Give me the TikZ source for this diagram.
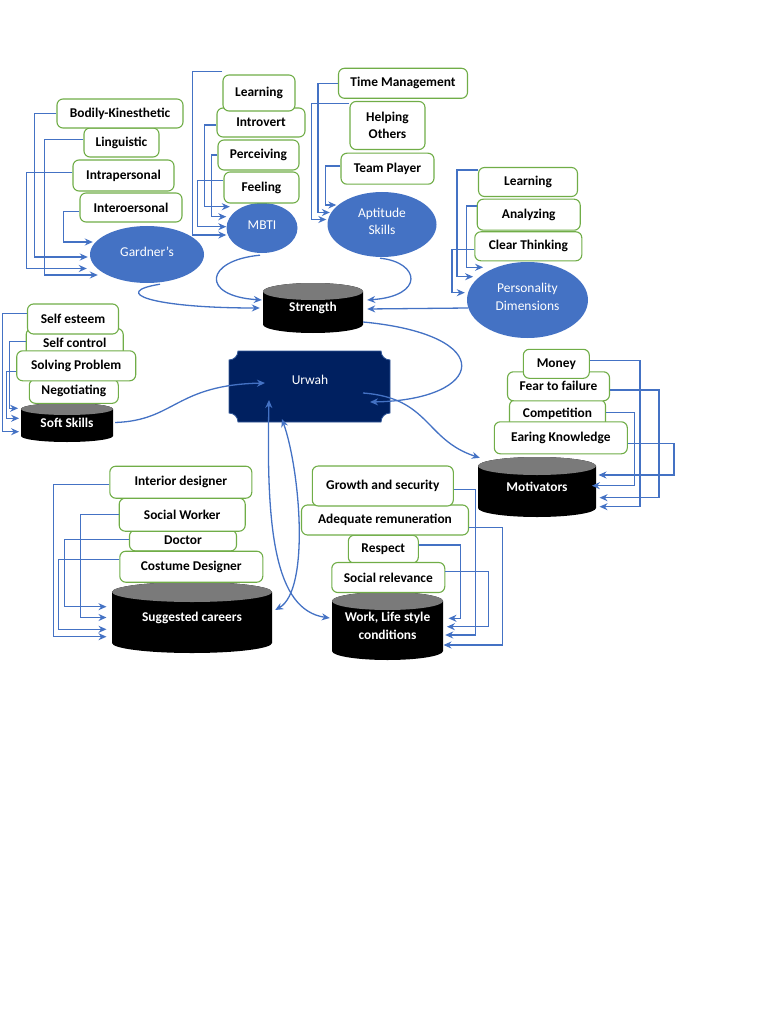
\documentclass[tikz,border=0pt]{standalone}
\usepackage{fontspec}
\setmainfont{Carlito}
\usetikzlibrary{calc}
\usetikzlibrary{arrows.meta}
\usetikzlibrary{shapes.geometric}

\definecolor{linkblue}{HTML}{4472C4}
\definecolor{boxgreen}{HTML}{70AD47}
\definecolor{bubbleblue}{HTML}{4472C4}
\definecolor{plaquenavy}{HTML}{002060}
\definecolor{plaqueedge}{HTML}{2F5597}

\tikzset{
  wh/.style 2 args={minimum width=#1pt, minimum height=#2pt},
  link/.style={linkblue, line width=1.3pt, ->, >={Stealth[length=8pt, width=7pt]}},
  dlink/.style={linkblue, line width=1.3pt, <->, >={Stealth[length=8pt, width=7pt]}},
  item/.style={draw=boxgreen, line width=1.1pt, rounded corners=6pt, fill=white, inner sep=1pt,
    align=center, font=\fontsize{13.4}{17}\selectfont\bfseries},
  bubble/.style={ellipse, fill=bubbleblue, text=white, inner sep=0pt, align=center,
    text depth=6pt, font=\fontsize{13.5}{17.5}\selectfont},
  drumtop/.style={fill=black!52},
  drumlabel/.style={text=white, inner sep=0pt, align=center, font=\fontsize{13.4}{18}\selectfont\bfseries}
}

% #1 name, #2 cx, #3 cy, #4 width, #5 height, #6 top radius, #7 text
\newcommand{\drum}[7]{%
  \fill[black] (#2-#4/2,#3-#5/2+#6) -- (#2-#4/2,#3+#5/2-#6)
    arc[start angle=180, end angle=0, x radius=#4/2, y radius=#6]
    -- (#2+#4/2,#3-#5/2+#6)
    arc[start angle=0, end angle=-180, x radius=#4/2, y radius=#6] -- cycle;
  \fill[drumtop] (#2,#3-#5/2+#6) ellipse[x radius=#4/2, y radius=#6];
  \node[drumlabel, wh={#4}{#5}] (#1) at (#2,#3) {#7};
}

\begin{document}
\begin{tikzpicture}[x=1pt, y=-1pt]
\useasboundingbox (0,0) rectangle (768,1024);

% bubbles
\node[bubble, wh={114}{57}] (gardner) at (147,254.5) {Gardner’s};
\node[bubble, wh={71}{50}] (mbti) at (262,228) {MBTI};
\node[bubble, wh={109}{65}] (aptitude) at (382,224.5) {Aptitude\\Skills};
\node[bubble, wh={121}{76}] (personality) at (527.5,300) {Personality\\Dimensions};

% drums
\drum{strength}{313}{308}{100}{50}{8.5}{Strength}
\drum{softskills}{67}{422.5}{92}{39}{6}{Soft Skills}
\drum{motivators}{537}{487}{118}{60}{9}{Motivators}
\drum{careers}{192}{617.5}{160}{71}{10}{Suggested careers}
\drum{worklife}{387.5}{626}{111}{68}{9}{Work, Life style\\conditions}

% centre plaque
\filldraw[fill=plaquenavy, draw=plaqueedge, line width=0.8pt]
  (238,351) -- (381,351) arc[start angle=180, end angle=90, radius=9]
  -- (390,413) arc[start angle=270, end angle=180, radius=9]
  -- (238,422) arc[start angle=0, end angle=-90, radius=9]
  -- (229,360) arc[start angle=90, end angle=0, radius=9] -- cycle;
\node[text=white, font=\fontsize{13.5}{16}\selectfont] (urwah) at (310,380) {Urwah};

% Gardner's group
\node[item, wh={75}{29}] (linguistic) at (121.5,142.5) {Linguistic};
\node[item, wh={126}{29}] (bodily) at (120,113.5) {Bodily-Kinesthetic};
\node[item, wh={101}{31}] (intrapersonal) at (123.5,175.5) {Intrapersonal};
\node[item, wh={102}{29}] (interoersonal) at (131,207.5) {Interoersonal};

% MBTI group
\node[item, wh={88}{29}] (introvert) at (261,122.5) {Introvert};
\node[item, wh={72}{36}] (learning) at (259,93) {Learning};
\node[item, wh={81}{30}] (perceiving) at (258.5,155) {Perceiving};
\node[item, wh={75}{31}] (feeling) at (261.5,187.5) {Feeling};

% Aptitude group
\node[item, wh={129}{30}] (timemgmt) at (403,83.3) {Time Management};
\node[item, wh={75}{48}] (helping) at (387.5,125.5) {Helping\\Others};
\node[item, wh={93}{31}] (teamplayer) at (387.5,168.7) {Team Player};

% Personality group
\node[item, wh={99}{29}] (learningp) at (528,182) {Learning};
\node[item, wh={103}{31}] (analyzing) at (528.7,214.7) {Analyzing};
\node[item, wh={107}{29}] (clearthinking) at (528.3,246.3) {Clear Thinking};

% Soft skills group
\node[item, wh={97}{28}] (selfcontrol) at (74.7,342.5) {Self control};
\node[item, wh={89}{24}] (negotiating) at (73.8,391.3) {Negotiating};
\node[item, wh={119}{30}] (solving) at (76.2,365.8) {Solving Problem};
\node[item, wh={91}{30}] (selfesteem) at (73,319) {Self esteem};

% Motivators group
\node[item, wh={96}{28}] (competition) at (557.5,413.8) {Competition};
\node[item, wh={133}{32}] (earing) at (560.8,437.8) {Earing Knowledge};
\node[item, wh={102}{29}] (fear) at (558.5,386.3) {Fear to failure};
\node[item, wh={66}{29}] (money) at (556.3,363.8) {Money};

% Careers group
\node[item, wh={107}{21}] (doctor) at (183,540.5) {Doctor};
\node[item, wh={126}{33}] (socialworker) at (182.2,514.7) {Social Worker};
\node[item, wh={142}{32}] (interior) at (180.8,482.2) {Interior designer};
\node[item, wh={143}{31}] (costume) at (191.3,566.7) {Costume Designer};

% Work, life style group
\node[item, wh={70}{28}] (respect) at (383.3,549.2) {Respect};
\node[item, wh={167}{30}] (adequate) at (385,520) {Adequate remuneration};
\node[item, wh={141}{40}] (growth) at (382.8,486) {Growth and security};
\node[item, wh={113}{30}] (socialrel) at (388.3,577.5) {Social relevance};

% elbow links, left side
\foreach \src/\sy/\len/\ex/\ey in {bodily.west/0/22/-2/2.5, linguistic.west/-3/39/8/20.5,
    intrapersonal.west/-3/46/-3/14, interoersonal.west/4/16/3/-12.5}
  \draw[link] ($(\src)+(0,\sy)$) -- ++(-\len,0) |- ($(gardner.west)+(\ex,\ey)$);
\foreach \src/\sy/\len/\ex/\ey in {learning.north west/-3/30/0/7, introvert.west/2.5/12/3.5/-21.3,
    perceiving.west/0/6.3/0/-11.3, feeling.west/-7/25.7/0/-1.3}
  \draw[link] ($(\src)+(0,\sy)$) -- ++(-\len,0) |- ($(mbti.west)+(\ex,\ey)$);
\foreach \src/\sy/\len/\ex/\ey in {timemgmt.west/0/20/2.5/-12, helping.west/-22/38/-1/-5,
    teamplayer.west/-2.7/15/9/-19.5}
  \draw[link] ($(\src)+(0,\sy)$) -- ++(-\len,0) |- ($(aptitude.west)+(\ex,\ey)$);
\foreach \src/\sy/\len/\ex/\ey in {learningp.west/-12/21/6.3/-23.3, analyzing.west/-8.7/10.3/16.3/-32.7,
    clearthinking.west/3/22.3/-2/-7.3}
  \draw[link] ($(\src)+(0,\sy)$) -- ++(-\len,0) |- ($(personality.west)+(\ex,\ey)$);
\foreach \src/\sy/\len/\ex/\ey in {selfesteem.west/-5.7/24.2/-1.7/9.2, selfcontrol.west/-1/16/-2.7/-14.2,
    solving.west/6/9.8/-1.7/-4.2}
  \draw[link] ($(\src)+(0,\sy)$) -- ++(-\len,0) |- ($(softskills.west)+(\ex,\ey)$);
\foreach \src/\sy/\len/\ex/\ey in {interior.west/2/56/-5.3/19.2, socialworker.west/0/38/-5.3/0,
    doctor.west/-1/64.5/-5.3/-10.8, costume.west/-7.4/60.5/-5.3/11.8}
  \draw[link] ($(\src)+(0,\sy)$) -- ++(-\len,0) |- ($(careers.west)+(\ex,\ey)$);

% elbow links, right side
\foreach \src/\sy/\len/\ex/\ey in {money.east/-3/50/3.3/19.7, fear.east/3.7/48.8/3.3/10.7,
    competition.east/-1/28.5/-4.3/-1.3, earing.east/5.5/46/2.3/-12}
  \draw[link] ($(\src)+(0,\sy)$) -- ++(\len,0) |- ($(motivators.east)+(\ex,\ey)$);
\foreach \src/\sy/\len/\ex/\ey in {growth.east/3.3/21.7/2/9, adequate.east/7.3/33.2/0.3/19,
    respect.east/-4.2/41.7/5.3/-7.7, socialrel.east/-5.8/43.3/3.7/0.7}
  \draw[link] ($(\src)+(0,\sy)$) -- ++(\len,0) |- ($(worklife.east)+(\ex,\ey)$);

% curved links
\draw[link] ($(gardner.south)+(13,1)$) .. controls +(-50,8) and +(-110,0) .. ($(strength.west)+(-3,0)$);
\draw[link] ($(mbti.south)+(-2,2)$) .. controls +(-55,5) and +(-62,-4) .. ($(strength.west)+(-1,-8)$);
\draw[link] ($(aptitude.south)+(-2,1)$) .. controls +(40,4) and +(58,-4) .. ($(strength.east)+(4,-8)$);
\draw[link] ($(personality.west)+(1,8)$) -- ($(strength.east)+(4,1)$);
\draw[link] ($(strength.east)+(0,14)$) .. controls +(137,13) and +(115,-2) .. ($(urwah)+(60,22)$);
\draw[link] ($(urwah)+(53,13)$) .. controls +(67,5) and +(-55,-18) .. ($(motivators.north west)+(2,1)$);
\draw[link] ($(softskills.east)+(2,0)$) .. controls +(60,-2) and +(-90,2) .. ($(urwah)+(-45,3)$);
\draw[dlink] ($(urwah)+(-41,20)$) .. controls +(-3,130) and +(-55,-8) .. ($(worklife.west)+(-2,-8)$);
\draw[dlink] ($(urwah)+(-28,39)$) .. controls +(18,51) and +(35,-20) .. ($(careers.east)+(3,-7.5)$);
\end{tikzpicture}
\end{document}
